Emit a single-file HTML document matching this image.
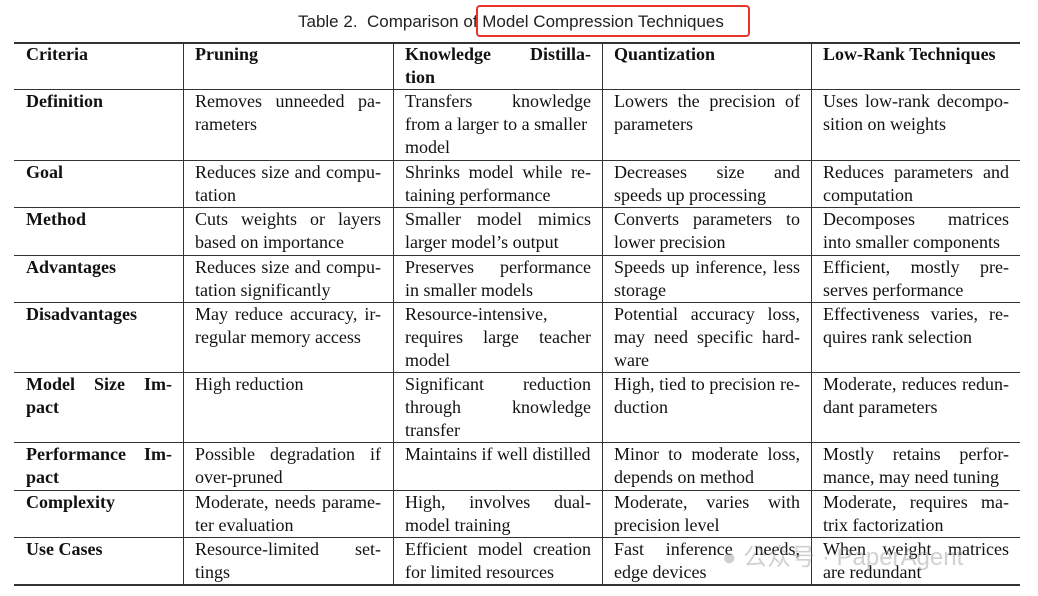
<!DOCTYPE html>
<html><head><meta charset="utf-8"><style>
body{margin:0;width:1038px;height:596px;background:#fff;position:relative;overflow:hidden;font-family:"Liberation Serif",serif;color:#111}
.h{position:absolute;left:14px;width:1006px;height:0;border-top:1px solid #333}
.v{position:absolute;width:0;border-left:1px solid #333;top:42px;height:542px}
.c{position:absolute;width:186px;font-size:18px;line-height:23px}
.c div{white-space:nowrap}
.c .j{text-align:justify;text-align-last:justify;white-space:normal}
.b{font-weight:bold}
.t{position:absolute;top:12px;left:298px;font-family:"Liberation Sans",sans-serif;font-size:17px;color:#222}
.r{position:absolute;left:476px;top:5px;width:270px;height:28px;border:2px solid #e8352b;border-radius:4px}
.w{position:absolute;left:722px;top:537px;font-family:"Liberation Sans","Noto Sans CJK SC",sans-serif;font-size:24px;color:rgba(150,150,150,0.45)}
</style></head><body>
<div class="t">Table 2.&nbsp; Comparison of Model Compression Techniques</div>
<div class="r"></div>
<div class="h" style="top:42px;border-top-width:2px"></div>
<div class="h" style="top:89px"></div>
<div class="h" style="top:160px"></div>
<div class="h" style="top:207px"></div>
<div class="h" style="top:255px"></div>
<div class="h" style="top:302px"></div>
<div class="h" style="top:372px"></div>
<div class="h" style="top:442px"></div>
<div class="h" style="top:490px"></div>
<div class="h" style="top:537px"></div>
<div class="h" style="top:584px;border-top-width:2px"></div>
<div class="v" style="left:183px"></div>
<div class="v" style="left:393px"></div>
<div class="v" style="left:602px"></div>
<div class="v" style="left:811px"></div>

<div class="c b" style="left:26px;top:43px"><div>Criteria</div></div>
<div class="c b" style="left:195px;top:43px"><div>Pruning</div></div>
<div class="c b" style="left:405px;top:43px"><div class="j">Knowledge Distilla-</div><div>tion</div></div>
<div class="c b" style="left:614px;top:43px"><div>Quantization</div></div>
<div class="c b" style="left:823px;top:43px"><div>Low-Rank Techniques</div></div>

<div class="c b" style="left:26px;top:90px"><div>Definition</div></div>
<div class="c" style="left:195px;top:90px"><div class="j">Removes unneeded pa-</div><div>rameters</div></div>
<div class="c" style="left:405px;top:90px"><div class="j">Transfers knowledge</div><div>from a larger to a smaller</div><div>model</div></div>
<div class="c" style="left:614px;top:90px"><div class="j">Lowers the precision of</div><div>parameters</div></div>
<div class="c" style="left:823px;top:90px"><div class="j">Uses low-rank decompo-</div><div>sition on weights</div></div>

<div class="c b" style="left:26px;top:161px"><div>Goal</div></div>
<div class="c" style="left:195px;top:161px"><div class="j">Reduces size and compu-</div><div>tation</div></div>
<div class="c" style="left:405px;top:161px"><div class="j">Shrinks model while re-</div><div>taining performance</div></div>
<div class="c" style="left:614px;top:161px"><div class="j">Decreases size and</div><div>speeds up processing</div></div>
<div class="c" style="left:823px;top:161px"><div class="j">Reduces parameters and</div><div>computation</div></div>

<div class="c b" style="left:26px;top:208px"><div>Method</div></div>
<div class="c" style="left:195px;top:208px"><div class="j">Cuts weights or layers</div><div>based on importance</div></div>
<div class="c" style="left:405px;top:208px"><div class="j">Smaller model mimics</div><div>larger model’s output</div></div>
<div class="c" style="left:614px;top:208px"><div class="j">Converts parameters to</div><div>lower precision</div></div>
<div class="c" style="left:823px;top:208px"><div class="j">Decomposes matrices</div><div>into smaller components</div></div>

<div class="c b" style="left:26px;top:256px"><div>Advantages</div></div>
<div class="c" style="left:195px;top:256px"><div class="j">Reduces size and compu-</div><div>tation significantly</div></div>
<div class="c" style="left:405px;top:256px"><div class="j">Preserves performance</div><div>in smaller models</div></div>
<div class="c" style="left:614px;top:256px"><div class="j">Speeds up inference, less</div><div>storage</div></div>
<div class="c" style="left:823px;top:256px"><div class="j">Efficient, mostly pre-</div><div>serves performance</div></div>

<div class="c b" style="left:26px;top:303px"><div>Disadvantages</div></div>
<div class="c" style="left:195px;top:303px"><div class="j">May reduce accuracy, ir-</div><div>regular memory access</div></div>
<div class="c" style="left:405px;top:303px"><div>Resource-intensive,</div><div class="j">requires large teacher</div><div>model</div></div>
<div class="c" style="left:614px;top:303px"><div class="j">Potential accuracy loss,</div><div class="j">may need specific hard-</div><div>ware</div></div>
<div class="c" style="left:823px;top:303px"><div class="j">Effectiveness varies, re-</div><div>quires rank selection</div></div>

<div class="c b" style="left:26px;top:373px"><div class="j" style="width:146px">Model Size Im-</div><div>pact</div></div>
<div class="c" style="left:195px;top:373px"><div>High reduction</div></div>
<div class="c" style="left:405px;top:373px"><div class="j">Significant reduction</div><div class="j">through knowledge</div><div>transfer</div></div>
<div class="c" style="left:614px;top:373px"><div class="j">High, tied to precision re-</div><div>duction</div></div>
<div class="c" style="left:823px;top:373px"><div class="j">Moderate, reduces redun-</div><div>dant parameters</div></div>

<div class="c b" style="left:26px;top:443px"><div class="j" style="width:146px">Performance Im-</div><div>pact</div></div>
<div class="c" style="left:195px;top:443px"><div class="j">Possible degradation if</div><div>over-pruned</div></div>
<div class="c" style="left:405px;top:443px"><div>Maintains if well distilled</div></div>
<div class="c" style="left:614px;top:443px"><div class="j">Minor to moderate loss,</div><div>depends on method</div></div>
<div class="c" style="left:823px;top:443px"><div class="j">Mostly retains perfor-</div><div>mance, may need tuning</div></div>

<div class="c b" style="left:26px;top:491px"><div>Complexity</div></div>
<div class="c" style="left:195px;top:491px"><div class="j">Moderate, needs parame-</div><div>ter evaluation</div></div>
<div class="c" style="left:405px;top:491px"><div class="j">High, involves dual-</div><div>model training</div></div>
<div class="c" style="left:614px;top:491px"><div class="j">Moderate, varies with</div><div>precision level</div></div>
<div class="c" style="left:823px;top:491px"><div class="j">Moderate, requires ma-</div><div>trix factorization</div></div>

<div class="c b" style="left:26px;top:538px"><div>Use Cases</div></div>
<div class="c" style="left:195px;top:538px"><div class="j">Resource-limited set-</div><div>tings</div></div>
<div class="c" style="left:405px;top:538px"><div class="j">Efficient model creation</div><div>for limited resources</div></div>
<div class="c" style="left:614px;top:538px"><div class="j">Fast inference needs,</div><div>edge devices</div></div>
<div class="c" style="left:823px;top:538px"><div class="j">When weight matrices</div><div>are redundant</div></div>

<div class="w">● 公众号 · PaperAgent</div>
</body></html>
